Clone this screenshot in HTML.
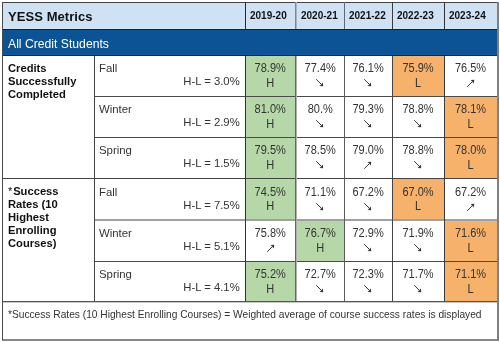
<!DOCTYPE html>
<html><head><meta charset="utf-8"><style>
html,body{margin:0;padding:0;background:#fff;width:500px;height:342px;overflow:hidden;position:relative;font-family:"Liberation Sans",sans-serif}
.t{position:absolute;white-space:nowrap;will-change:transform}
</style></head><body>
<div style="position:absolute;left:2px;top:2px;width:497px;height:27px;background:#cfe2f3;"></div>
<div style="position:absolute;left:2px;top:29px;width:497px;height:27px;background:#0b5394;"></div>
<div style="position:absolute;left:245px;top:55px;width:51px;height:42px;background:#b6d7a8;"></div>
<div style="position:absolute;left:392px;top:55px;width:53px;height:42px;background:#f6b26b;"></div>
<div style="position:absolute;left:245px;top:96px;width:51px;height:42px;background:#b6d7a8;"></div>
<div style="position:absolute;left:444px;top:96px;width:54px;height:42px;background:#f6b26b;"></div>
<div style="position:absolute;left:245px;top:137px;width:51px;height:42px;background:#b6d7a8;"></div>
<div style="position:absolute;left:444px;top:137px;width:54px;height:42px;background:#f6b26b;"></div>
<div style="position:absolute;left:245px;top:178px;width:51px;height:42px;background:#b6d7a8;"></div>
<div style="position:absolute;left:392px;top:178px;width:53px;height:42px;background:#f6b26b;"></div>
<div style="position:absolute;left:295px;top:219px;width:50px;height:43px;background:#b6d7a8;"></div>
<div style="position:absolute;left:444px;top:219px;width:54px;height:43px;background:#f6b26b;"></div>
<div style="position:absolute;left:245px;top:261px;width:51px;height:41px;background:#b6d7a8;"></div>
<div style="position:absolute;left:444px;top:261px;width:54px;height:41px;background:#f6b26b;"></div>
<div style="position:absolute;left:2px;top:2px;width:497px;height:1px;background:#444"></div>
<div style="position:absolute;left:3px;top:28px;width:494px;height:1px;background:#d8e8f6"></div>
<div style="position:absolute;left:2px;top:29px;width:496px;height:1px;background:#1c1c1c"></div>
<div style="position:absolute;left:3px;top:54px;width:494px;height:1px;background:#1459a0"></div>
<div style="position:absolute;left:2px;top:55px;width:496px;height:1px;background:#222"></div>
<div style="position:absolute;left:94px;top:96px;width:403px;height:1px;background:#4a4a4a"></div>
<div style="position:absolute;left:94px;top:137px;width:403px;height:1px;background:#4a4a4a"></div>
<div style="position:absolute;left:2px;top:178px;width:495px;height:1px;background:#444"></div>
<div style="position:absolute;left:94px;top:219px;width:403px;height:1px;background:#a0a0a0"></div>
<div style="position:absolute;left:94px;top:220px;width:403px;height:1px;background:#a0a0a0"></div>
<div style="position:absolute;left:94px;top:261px;width:403px;height:1px;background:#4a4a4a"></div>
<div style="position:absolute;left:2px;top:301px;width:495px;height:1px;background:#555"></div>
<div style="position:absolute;left:2px;top:302px;width:495px;height:1px;background:#c8c8c8"></div>
<div style="position:absolute;left:2px;top:339px;width:497px;height:2px;background:#888"></div>
<div style="position:absolute;left:2px;top:2px;width:1px;height:338px;background:#4a4a4a"></div>
<div style="position:absolute;left:497px;top:2px;width:2px;height:339px;background:#808080"></div>
<div style="position:absolute;left:245px;top:2px;width:1px;height:27px;background:#2a2a2a"></div>
<div style="position:absolute;left:295px;top:2px;width:1px;height:27px;background:#7a8896"></div>
<div style="position:absolute;left:296px;top:2px;width:1px;height:27px;background:#a5b5c5"></div>
<div style="position:absolute;left:344px;top:2px;width:1px;height:27px;background:#5a6a7a"></div>
<div style="position:absolute;left:392px;top:2px;width:1px;height:27px;background:#3a3a3a"></div>
<div style="position:absolute;left:444px;top:2px;width:1px;height:27px;background:#333"></div>
<div style="position:absolute;left:94px;top:56px;width:1px;height:245px;background:#444"></div>
<div style="position:absolute;left:245px;top:56px;width:1px;height:245px;background:#333"></div>
<div style="position:absolute;left:295px;top:56px;width:1px;height:245px;background:#666"></div>
<div style="position:absolute;left:296px;top:56px;width:1px;height:245px;background:#b0b0b0"></div>
<div style="position:absolute;left:344px;top:56px;width:1px;height:245px;background:#5a5a5a"></div>
<div style="position:absolute;left:392px;top:56px;width:1px;height:245px;background:#444"></div>
<div style="position:absolute;left:444px;top:56px;width:1px;height:245px;background:#3a3a3a"></div>
<div class="t" style="left:8.2px;top:7.4px;font-weight:bold;font-size:13px;color:#111;line-height:20px;letter-spacing:0.07px">YESS Metrics</div>
<div class="t" style="left:250.3px;top:7.6px;font-weight:bold;font-size:10px;line-height:16px;color:#111">2019-20</div>
<div class="t" style="left:300.7px;top:7.6px;font-weight:bold;font-size:10px;line-height:16px;color:#111">2020-21</div>
<div class="t" style="left:349.09999999999997px;top:7.6px;font-weight:bold;font-size:10px;line-height:16px;color:#111">2021-22</div>
<div class="t" style="left:397.29999999999995px;top:7.6px;font-weight:bold;font-size:10px;line-height:16px;color:#111">2022-23</div>
<div class="t" style="left:449.29999999999995px;top:7.6px;font-weight:bold;font-size:10px;line-height:16px;color:#111">2023-24</div>
<div class="t" style="left:7.6px;top:33.9px;font-size:12.2px;color:#fff;line-height:20px">All Credit Students</div>
<div class="t" style="left:8px;top:62px;font-weight:bold;font-size:11.2px;line-height:13.1px;color:#111">Credits<br>Successfully<br>Completed</div>
<div class="t" style="left:8px;top:185px;font-size:11.2px;line-height:13.1px;color:#111"><span style="margin-right:0.8px;font-weight:normal">*</span><b>Success<br>Rates (10<br>Highest<br>Enrolling<br>Courses)</b></div>
<div class="t" style="left:99.3px;top:61px;font-size:11.4px;line-height:14px;color:#333">Fall</div>
<div class="t" style="left:94.5px;width:144.70000000000002px;top:74.2px;text-align:right;font-size:11.3px;line-height:14px;color:#333">H-L = 3.0%</div>
<div class="t" style="left:245.4px;width:50.400000000000006px;top:61px;text-align:center;font-size:11px;line-height:14px;color:#333;transform:scaleY(1.1);transform-origin:50% 77%;">78.9%</div>
<div class="t" style="left:245.4px;width:50.400000000000006px;top:75.6px;text-align:center;font-size:11px;line-height:14px;color:#333;transform:scaleY(1.1);transform-origin:50% 77%;">H</div>
<div class="t" style="left:295.8px;width:48.39999999999998px;top:61px;text-align:center;font-size:11px;line-height:14px;color:#333;transform:scaleY(1.1);transform-origin:50% 77%;">77.4%</div>
<div class="t" style="left:316.0px;top:79.1px;width:8px;height:8px"><svg width="8" height="8" viewBox="0 0 8 8" style="display:block"><path d="M0.2 0.2L5.6 5.6" stroke="#3a3a3a" stroke-width="1"/><path d="M7.2 7.2L3.6 6.9L6.9 3.6Z" fill="#3a3a3a"/></svg></div>
<div class="t" style="left:344.2px;width:48.19999999999999px;top:61px;text-align:center;font-size:11px;line-height:14px;color:#333;transform:scaleY(1.1);transform-origin:50% 77%;">76.1%</div>
<div class="t" style="left:364.29999999999995px;top:79.1px;width:8px;height:8px"><svg width="8" height="8" viewBox="0 0 8 8" style="display:block"><path d="M0.2 0.2L5.6 5.6" stroke="#3a3a3a" stroke-width="1"/><path d="M7.2 7.2L3.6 6.9L6.9 3.6Z" fill="#3a3a3a"/></svg></div>
<div class="t" style="left:392.4px;width:52.0px;top:61px;text-align:center;font-size:11px;line-height:14px;color:#333;transform:scaleY(1.1);transform-origin:50% 77%;">75.9%</div>
<div class="t" style="left:392.4px;width:52.0px;top:75.6px;text-align:center;font-size:11px;line-height:14px;color:#333;transform:scaleY(1.1);transform-origin:50% 77%;">L</div>
<div class="t" style="left:444.4px;width:53.10000000000002px;top:61px;text-align:center;font-size:11px;line-height:14px;color:#333;transform:scaleY(1.1);transform-origin:50% 77%;">76.5%</div>
<div class="t" style="left:466.95px;top:79.1px;width:8px;height:8px"><svg width="8" height="8" viewBox="0 0 8 8" style="display:block"><path d="M0.2 7.8L5.6 2.4" stroke="#3a3a3a" stroke-width="1"/><path d="M7.2 0.8L3.6 1.1L6.9 4.4Z" fill="#3a3a3a"/></svg></div>
<div class="t" style="left:99.3px;top:102px;font-size:11.4px;line-height:14px;color:#333">Winter</div>
<div class="t" style="left:94.5px;width:144.70000000000002px;top:115.2px;text-align:right;font-size:11.3px;line-height:14px;color:#333">H-L = 2.9%</div>
<div class="t" style="left:245.4px;width:50.400000000000006px;top:102px;text-align:center;font-size:11px;line-height:14px;color:#333;transform:scaleY(1.1);transform-origin:50% 77%;">81.0%</div>
<div class="t" style="left:245.4px;width:50.400000000000006px;top:116.6px;text-align:center;font-size:11px;line-height:14px;color:#333;transform:scaleY(1.1);transform-origin:50% 77%;">H</div>
<div class="t" style="left:295.8px;width:48.39999999999998px;top:102px;text-align:center;font-size:11px;line-height:14px;color:#333;transform:scaleY(1.1);transform-origin:50% 77%;">80.%</div>
<div class="t" style="left:316.0px;top:120.1px;width:8px;height:8px"><svg width="8" height="8" viewBox="0 0 8 8" style="display:block"><path d="M0.2 0.2L5.6 5.6" stroke="#3a3a3a" stroke-width="1"/><path d="M7.2 7.2L3.6 6.9L6.9 3.6Z" fill="#3a3a3a"/></svg></div>
<div class="t" style="left:344.2px;width:48.19999999999999px;top:102px;text-align:center;font-size:11px;line-height:14px;color:#333;transform:scaleY(1.1);transform-origin:50% 77%;">79.3%</div>
<div class="t" style="left:364.29999999999995px;top:120.1px;width:8px;height:8px"><svg width="8" height="8" viewBox="0 0 8 8" style="display:block"><path d="M0.2 0.2L5.6 5.6" stroke="#3a3a3a" stroke-width="1"/><path d="M7.2 7.2L3.6 6.9L6.9 3.6Z" fill="#3a3a3a"/></svg></div>
<div class="t" style="left:392.4px;width:52.0px;top:102px;text-align:center;font-size:11px;line-height:14px;color:#333;transform:scaleY(1.1);transform-origin:50% 77%;">78.8%</div>
<div class="t" style="left:414.4px;top:120.1px;width:8px;height:8px"><svg width="8" height="8" viewBox="0 0 8 8" style="display:block"><path d="M0.2 0.2L5.6 5.6" stroke="#3a3a3a" stroke-width="1"/><path d="M7.2 7.2L3.6 6.9L6.9 3.6Z" fill="#3a3a3a"/></svg></div>
<div class="t" style="left:444.4px;width:53.10000000000002px;top:102px;text-align:center;font-size:11px;line-height:14px;color:#333;transform:scaleY(1.1);transform-origin:50% 77%;">78.1%</div>
<div class="t" style="left:444.4px;width:53.10000000000002px;top:116.6px;text-align:center;font-size:11px;line-height:14px;color:#333;transform:scaleY(1.1);transform-origin:50% 77%;">L</div>
<div class="t" style="left:99.3px;top:143px;font-size:11.4px;line-height:14px;color:#333">Spring</div>
<div class="t" style="left:94.5px;width:144.70000000000002px;top:156.2px;text-align:right;font-size:11.3px;line-height:14px;color:#333">H-L = 1.5%</div>
<div class="t" style="left:245.4px;width:50.400000000000006px;top:143px;text-align:center;font-size:11px;line-height:14px;color:#333;transform:scaleY(1.1);transform-origin:50% 77%;">79.5%</div>
<div class="t" style="left:245.4px;width:50.400000000000006px;top:157.6px;text-align:center;font-size:11px;line-height:14px;color:#333;transform:scaleY(1.1);transform-origin:50% 77%;">H</div>
<div class="t" style="left:295.8px;width:48.39999999999998px;top:143px;text-align:center;font-size:11px;line-height:14px;color:#333;transform:scaleY(1.1);transform-origin:50% 77%;">78.5%</div>
<div class="t" style="left:316.0px;top:161.10000000000002px;width:8px;height:8px"><svg width="8" height="8" viewBox="0 0 8 8" style="display:block"><path d="M0.2 0.2L5.6 5.6" stroke="#3a3a3a" stroke-width="1"/><path d="M7.2 7.2L3.6 6.9L6.9 3.6Z" fill="#3a3a3a"/></svg></div>
<div class="t" style="left:344.2px;width:48.19999999999999px;top:143px;text-align:center;font-size:11px;line-height:14px;color:#333;transform:scaleY(1.1);transform-origin:50% 77%;">79.0%</div>
<div class="t" style="left:364.29999999999995px;top:161.10000000000002px;width:8px;height:8px"><svg width="8" height="8" viewBox="0 0 8 8" style="display:block"><path d="M0.2 7.8L5.6 2.4" stroke="#3a3a3a" stroke-width="1"/><path d="M7.2 0.8L3.6 1.1L6.9 4.4Z" fill="#3a3a3a"/></svg></div>
<div class="t" style="left:392.4px;width:52.0px;top:143px;text-align:center;font-size:11px;line-height:14px;color:#333;transform:scaleY(1.1);transform-origin:50% 77%;">78.8%</div>
<div class="t" style="left:414.4px;top:161.10000000000002px;width:8px;height:8px"><svg width="8" height="8" viewBox="0 0 8 8" style="display:block"><path d="M0.2 0.2L5.6 5.6" stroke="#3a3a3a" stroke-width="1"/><path d="M7.2 7.2L3.6 6.9L6.9 3.6Z" fill="#3a3a3a"/></svg></div>
<div class="t" style="left:444.4px;width:53.10000000000002px;top:143px;text-align:center;font-size:11px;line-height:14px;color:#333;transform:scaleY(1.1);transform-origin:50% 77%;">78.0%</div>
<div class="t" style="left:444.4px;width:53.10000000000002px;top:157.6px;text-align:center;font-size:11px;line-height:14px;color:#333;transform:scaleY(1.1);transform-origin:50% 77%;">L</div>
<div class="t" style="left:99.3px;top:184.5px;font-size:11.4px;line-height:14px;color:#333">Fall</div>
<div class="t" style="left:94.5px;width:144.70000000000002px;top:197.7px;text-align:right;font-size:11.3px;line-height:14px;color:#333">H-L = 7.5%</div>
<div class="t" style="left:245.4px;width:50.400000000000006px;top:184.5px;text-align:center;font-size:11px;line-height:14px;color:#333;transform:scaleY(1.1);transform-origin:50% 77%;">74.5%</div>
<div class="t" style="left:245.4px;width:50.400000000000006px;top:199.1px;text-align:center;font-size:11px;line-height:14px;color:#333;transform:scaleY(1.1);transform-origin:50% 77%;">H</div>
<div class="t" style="left:295.8px;width:48.39999999999998px;top:184.5px;text-align:center;font-size:11px;line-height:14px;color:#333;transform:scaleY(1.1);transform-origin:50% 77%;">71.1%</div>
<div class="t" style="left:316.0px;top:202.60000000000002px;width:8px;height:8px"><svg width="8" height="8" viewBox="0 0 8 8" style="display:block"><path d="M0.2 0.2L5.6 5.6" stroke="#3a3a3a" stroke-width="1"/><path d="M7.2 7.2L3.6 6.9L6.9 3.6Z" fill="#3a3a3a"/></svg></div>
<div class="t" style="left:344.2px;width:48.19999999999999px;top:184.5px;text-align:center;font-size:11px;line-height:14px;color:#333;transform:scaleY(1.1);transform-origin:50% 77%;">67.2%</div>
<div class="t" style="left:364.29999999999995px;top:202.60000000000002px;width:8px;height:8px"><svg width="8" height="8" viewBox="0 0 8 8" style="display:block"><path d="M0.2 0.2L5.6 5.6" stroke="#3a3a3a" stroke-width="1"/><path d="M7.2 7.2L3.6 6.9L6.9 3.6Z" fill="#3a3a3a"/></svg></div>
<div class="t" style="left:392.4px;width:52.0px;top:184.5px;text-align:center;font-size:11px;line-height:14px;color:#333;transform:scaleY(1.1);transform-origin:50% 77%;">67.0%</div>
<div class="t" style="left:392.4px;width:52.0px;top:199.1px;text-align:center;font-size:11px;line-height:14px;color:#333;transform:scaleY(1.1);transform-origin:50% 77%;">L</div>
<div class="t" style="left:444.4px;width:53.10000000000002px;top:184.5px;text-align:center;font-size:11px;line-height:14px;color:#333;transform:scaleY(1.1);transform-origin:50% 77%;">67.2%</div>
<div class="t" style="left:466.95px;top:202.60000000000002px;width:8px;height:8px"><svg width="8" height="8" viewBox="0 0 8 8" style="display:block"><path d="M0.2 7.8L5.6 2.4" stroke="#3a3a3a" stroke-width="1"/><path d="M7.2 0.8L3.6 1.1L6.9 4.4Z" fill="#3a3a3a"/></svg></div>
<div class="t" style="left:99.3px;top:226px;font-size:11.4px;line-height:14px;color:#333">Winter</div>
<div class="t" style="left:94.5px;width:144.70000000000002px;top:239.2px;text-align:right;font-size:11.3px;line-height:14px;color:#333">H-L = 5.1%</div>
<div class="t" style="left:245.4px;width:50.400000000000006px;top:226px;text-align:center;font-size:11px;line-height:14px;color:#333;transform:scaleY(1.1);transform-origin:50% 77%;">75.8%</div>
<div class="t" style="left:266.6px;top:244.10000000000002px;width:8px;height:8px"><svg width="8" height="8" viewBox="0 0 8 8" style="display:block"><path d="M0.2 7.8L5.6 2.4" stroke="#3a3a3a" stroke-width="1"/><path d="M7.2 0.8L3.6 1.1L6.9 4.4Z" fill="#3a3a3a"/></svg></div>
<div class="t" style="left:295.8px;width:48.39999999999998px;top:226px;text-align:center;font-size:11px;line-height:14px;color:#333;transform:scaleY(1.1);transform-origin:50% 77%;">76.7%</div>
<div class="t" style="left:295.8px;width:48.39999999999998px;top:240.6px;text-align:center;font-size:11px;line-height:14px;color:#333;transform:scaleY(1.1);transform-origin:50% 77%;">H</div>
<div class="t" style="left:344.2px;width:48.19999999999999px;top:226px;text-align:center;font-size:11px;line-height:14px;color:#333;transform:scaleY(1.1);transform-origin:50% 77%;">72.9%</div>
<div class="t" style="left:364.29999999999995px;top:244.10000000000002px;width:8px;height:8px"><svg width="8" height="8" viewBox="0 0 8 8" style="display:block"><path d="M0.2 0.2L5.6 5.6" stroke="#3a3a3a" stroke-width="1"/><path d="M7.2 7.2L3.6 6.9L6.9 3.6Z" fill="#3a3a3a"/></svg></div>
<div class="t" style="left:392.4px;width:52.0px;top:226px;text-align:center;font-size:11px;line-height:14px;color:#333;transform:scaleY(1.1);transform-origin:50% 77%;">71.9%</div>
<div class="t" style="left:414.4px;top:244.10000000000002px;width:8px;height:8px"><svg width="8" height="8" viewBox="0 0 8 8" style="display:block"><path d="M0.2 0.2L5.6 5.6" stroke="#3a3a3a" stroke-width="1"/><path d="M7.2 7.2L3.6 6.9L6.9 3.6Z" fill="#3a3a3a"/></svg></div>
<div class="t" style="left:444.4px;width:53.10000000000002px;top:226px;text-align:center;font-size:11px;line-height:14px;color:#333;transform:scaleY(1.1);transform-origin:50% 77%;">71.6%</div>
<div class="t" style="left:444.4px;width:53.10000000000002px;top:240.6px;text-align:center;font-size:11px;line-height:14px;color:#333;transform:scaleY(1.1);transform-origin:50% 77%;">L</div>
<div class="t" style="left:99.3px;top:267px;font-size:11.4px;line-height:14px;color:#333">Spring</div>
<div class="t" style="left:94.5px;width:144.70000000000002px;top:280.2px;text-align:right;font-size:11.3px;line-height:14px;color:#333">H-L = 4.1%</div>
<div class="t" style="left:245.4px;width:50.400000000000006px;top:267px;text-align:center;font-size:11px;line-height:14px;color:#333;transform:scaleY(1.1);transform-origin:50% 77%;">75.2%</div>
<div class="t" style="left:245.4px;width:50.400000000000006px;top:281.6px;text-align:center;font-size:11px;line-height:14px;color:#333;transform:scaleY(1.1);transform-origin:50% 77%;">H</div>
<div class="t" style="left:295.8px;width:48.39999999999998px;top:267px;text-align:center;font-size:11px;line-height:14px;color:#333;transform:scaleY(1.1);transform-origin:50% 77%;">72.7%</div>
<div class="t" style="left:316.0px;top:285.1px;width:8px;height:8px"><svg width="8" height="8" viewBox="0 0 8 8" style="display:block"><path d="M0.2 0.2L5.6 5.6" stroke="#3a3a3a" stroke-width="1"/><path d="M7.2 7.2L3.6 6.9L6.9 3.6Z" fill="#3a3a3a"/></svg></div>
<div class="t" style="left:344.2px;width:48.19999999999999px;top:267px;text-align:center;font-size:11px;line-height:14px;color:#333;transform:scaleY(1.1);transform-origin:50% 77%;">72.3%</div>
<div class="t" style="left:364.29999999999995px;top:285.1px;width:8px;height:8px"><svg width="8" height="8" viewBox="0 0 8 8" style="display:block"><path d="M0.2 0.2L5.6 5.6" stroke="#3a3a3a" stroke-width="1"/><path d="M7.2 7.2L3.6 6.9L6.9 3.6Z" fill="#3a3a3a"/></svg></div>
<div class="t" style="left:392.4px;width:52.0px;top:267px;text-align:center;font-size:11px;line-height:14px;color:#333;transform:scaleY(1.1);transform-origin:50% 77%;">71.7%</div>
<div class="t" style="left:414.4px;top:285.1px;width:8px;height:8px"><svg width="8" height="8" viewBox="0 0 8 8" style="display:block"><path d="M0.2 0.2L5.6 5.6" stroke="#3a3a3a" stroke-width="1"/><path d="M7.2 7.2L3.6 6.9L6.9 3.6Z" fill="#3a3a3a"/></svg></div>
<div class="t" style="left:444.4px;width:53.10000000000002px;top:267px;text-align:center;font-size:11px;line-height:14px;color:#333;transform:scaleY(1.1);transform-origin:50% 77%;">71.1%</div>
<div class="t" style="left:444.4px;width:53.10000000000002px;top:281.6px;text-align:center;font-size:11px;line-height:14px;color:#333;transform:scaleY(1.1);transform-origin:50% 77%;">L</div>
<div class="t" style="left:8px;top:308px;font-size:10.2px;line-height:14px;color:#333">*Success Rates (10 Highest Enrolling Courses) = Weighted average of course success rates is displayed</div>
</body></html>
